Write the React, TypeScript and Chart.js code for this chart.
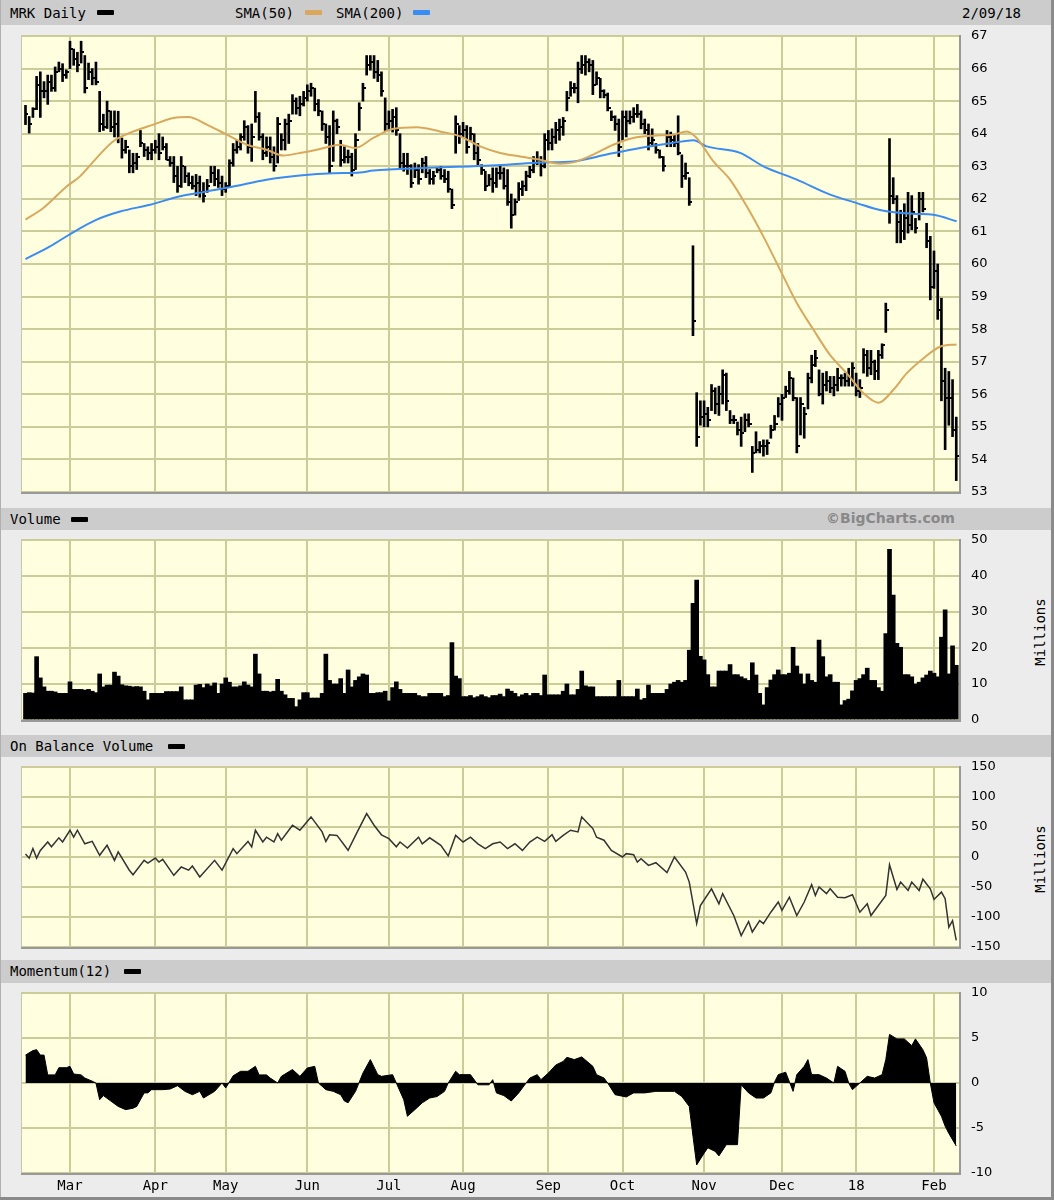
import React, { useEffect, useRef } from 'react';
import { Chart, registerables } from 'chart.js';

Chart.register(...registerables);

// ---------- DATA (daily bars, index 0 = mid Feb 2017, index 251 = 2/09/18) ----------
const monthIdx = [12, 35, 54, 76, 98, 118, 141, 161, 183, 204, 224, 245];
const monthLabels = ['Mar', 'Apr', 'May', 'Jun', 'Jul', 'Aug', 'Sep', 'Oct', 'Nov', 'Dec', '18', 'Feb'];

const highs = [
  64.87, 64.53, 64.8, 65.76, 65.9, 65.6, 65.8, 65.8, 66.05, 66.2, 66.15, 65.96, 66.84, 66.6, 66.5, 66.84, 66.4, 66.17, 66.0, 66.2, 65.3, 64.6, 65.0, 64.7, 64.7,
  64.69, 63.87, 63.8, 63.5, 63.4, 63.4, 64.1, 63.7, 63.6, 63.7, 63.8, 64.0, 63.9, 63.7, 63.3, 63.3, 63.0, 63.3, 63.0, 62.8, 62.7, 62.75, 62.7, 62.5, 62.6, 63.0, 63.0, 62.9, 62.7, 62.5, 63.2, 63.7, 63.8, 64.0, 64.4, 64.25, 64.3, 65.3, 64.65,
  64.0, 63.9, 63.9, 63.6, 64.5, 64.0, 64.45, 64.6, 65.2, 65.1, 65.15, 65.3, 65.5, 65.55, 65.4, 65.05, 64.7, 64.3, 64.25, 64.7, 64.45, 63.8, 63.6, 63.5, 63.4, 64.0, 64.95, 65.55, 66.4, 66.4, 66.4, 66.25, 65.9, 65.1, 64.7, 64.75, 64.8, 64.0, 63.4, 63.4, 63.05, 63.1, 63.05, 63.25, 63.3, 62.9, 62.85, 62.95, 63.0, 62.9, 62.85, 62.3, 64.55, 64.25, 64.35, 64.25, 64.2, 64.0, 63.7, 63.05, 62.85, 62.75,
  62.95, 62.95, 63.0, 62.95, 62.9, 62.15, 62.0, 62.5, 62.55, 62.85, 63.0, 63.3, 63.45, 63.3, 64.0,
  64.1, 64.15, 64.35, 64.45, 64.5, 65.3, 65.6, 65.55, 66.2, 66.4, 66.4, 66.3, 66.25, 65.9, 65.7, 65.35, 65.25, 64.7, 64.55, 64.45, 64.7,
  64.7, 64.7, 64.8, 64.9, 64.7, 64.45, 64.3, 64.15, 63.7, 63.5, 63.3, 64.1, 64.05, 63.95, 64.55, 63.35, 63.1, 62.65,
  60.56, 56.05, 55.8, 55.8, 55.6, 56.3, 56.2, 56.25, 56.75, 56.65, 55.5, 55.35, 55.15, 55.3, 55.4, 55.4, 54.4, 54.85, 54.55, 54.6, 54.6, 55.05, 55.35, 55.9,
  56.0, 56.25, 56.7, 56.5, 55.9, 55.9, 55.6, 56.65, 57.2, 57.35, 56.75, 56.65, 56.7, 56.55, 56.55, 56.8, 56.6, 56.65, 56.8, 56.97,
  56.65, 56.45, 57.4, 57.35, 57.35, 57.05, 57.35, 57.55, 58.8, 63.85, 62.65, 62.1, 61.65, 61.85, 62.2, 62.1, 61.4, 62.2, 62.2, 61.25, 60.85, 60.4, 60.0, 58.95, 56.8, 56.7, 56.45, 55.3,
];

const lows = [
  64.28, 64.02, 64.5, 64.74, 64.5, 65.1, 64.9, 65.3, 65.3, 65.9, 65.6, 65.7, 66.0, 66.1, 65.9, 66.17, 65.25, 65.66, 65.5, 65.5, 64.06, 64.1, 64.16, 64.06, 63.9,
  63.72, 63.25, 63.4, 62.8, 62.8, 62.9, 63.6, 63.3, 63.2, 63.2, 63.4, 63.2, 63.5, 63.2, 63.0, 62.5, 62.2, 62.35, 62.5, 62.4, 62.3, 62.1, 62.05, 61.9, 62.2, 62.5, 62.4, 62.35, 62.1, 62.2, 62.35, 63.0, 63.4, 63.5, 63.8, 63.4, 63.15, 64.35, 63.8,
  63.2, 63.3, 63.1, 62.85, 63.1, 63.5, 63.5, 63.7, 64.6, 64.6, 64.55, 64.85, 65.0, 65.15, 64.7, 64.55, 64.1, 63.7, 62.8, 63.15, 64.0, 63.0, 63.1, 63.1, 62.7, 62.9, 64.1, 65.0, 65.8, 65.95, 65.7, 65.6, 65.15, 64.1, 64.1, 64.05, 63.95, 62.96, 62.85, 62.75, 62.35, 62.65, 62.45, 62.8, 62.65, 62.45, 62.45, 62.8, 62.6, 62.5, 62.2, 61.7, 63.4, 63.7, 63.9, 63.4, 63.8, 63.2, 63.05, 62.75, 62.25, 62.4,
  62.2, 62.35, 62.6, 62.3, 61.8, 61.1, 61.5, 61.95, 62.1, 62.25, 62.65, 62.8, 63.05, 62.7, 62.95,
  63.5, 63.5, 63.7, 63.8, 63.95, 64.7, 65.15, 65.25, 64.95, 65.85, 65.8, 65.9, 65.2, 65.5, 65.1, 65.1, 64.7, 64.4, 64.1, 63.3, 63.8,
  63.9, 64.3, 64.35, 64.5, 64.15, 64.0, 63.5, 63.6, 63.4, 63.25, 62.85, 63.6, 63.6, 63.6, 63.35, 62.35, 62.6, 61.8,
  57.8, 54.4, 55.05, 55.0, 55.0, 55.5, 55.4, 55.35, 55.7, 55.5, 55.1, 55.1, 54.75, 54.4, 54.85, 55.0, 53.6, 54.2, 54.2, 54.1, 54.15, 54.65, 54.9, 55.3,
  55.2, 55.9, 56.0, 55.8, 54.2, 54.75, 54.65, 55.55, 56.35, 56.85, 55.95, 55.7, 56.1, 56.05, 55.95, 56.1, 56.25, 56.25, 56.25, 56.25,
  55.95, 55.9, 56.65, 56.55, 56.6, 56.45, 56.45, 57.1, 57.9, 61.25, 61.85, 60.65, 60.65, 60.75, 60.95, 61.05, 60.95, 61.35, 61.6, 60.5, 58.9, 59.25, 58.3, 55.8, 54.3, 55.05, 54.7, 53.35,
];

const closes = [
  64.6, 64.3, 64.75, 65.5, 65.3, 65.3, 65.6, 65.4, 65.9, 66.0, 65.8, 65.9, 66.6, 66.3, 66.1, 66.5, 65.4, 65.9, 65.7, 65.6, 64.3, 64.2, 64.7, 64.2, 64.3,
  63.9, 63.5, 63.6, 63.0, 63.1, 63.3, 63.7, 63.5, 63.4, 63.5, 63.6, 63.4, 63.6, 63.2, 63.1, 62.7, 62.4, 63.0, 62.7, 62.5, 62.4, 62.5, 62.2, 62.1, 62.4, 62.8, 62.6, 62.5, 62.3, 62.4, 63.1, 63.5, 63.6, 63.9, 64.2, 63.6, 63.9, 64.5, 63.9,
  63.4, 63.6, 63.3, 63.0, 64.3, 63.8, 64.3, 64.4, 65.0, 64.8, 64.9, 65.1, 65.3, 65.4, 64.9, 64.7, 64.3, 63.9, 63.0, 64.4, 64.2, 63.2, 63.3, 63.3, 62.9, 63.8, 64.8, 65.4, 66.1, 66.2, 65.9, 65.8, 65.3, 64.3, 64.4, 64.5, 64.1, 63.1, 63.0, 63.0, 62.5, 62.9, 62.6, 63.1, 62.8, 62.6, 62.7, 62.9, 62.7, 62.6, 62.3, 61.8, 64.3, 64.0, 64.1, 63.6, 64.0, 63.4, 63.2, 62.9, 62.4, 62.6,
  62.5, 62.8, 62.8, 62.4, 61.9, 61.5, 61.9, 62.3, 62.4, 62.7, 62.9, 63.1, 63.2, 63.0, 63.8,
  63.7, 63.9, 64.1, 64.2, 64.4, 65.1, 65.4, 65.4, 66.0, 66.1, 66.2, 66.1, 65.5, 65.7, 65.3, 65.2, 64.8, 64.5, 64.3, 63.6, 64.5,
  64.4, 64.5, 64.6, 64.6, 64.3, 64.1, 63.7, 63.8, 63.5, 63.3, 63.0, 63.9, 63.8, 63.7, 63.4, 62.7, 62.8, 61.9,
  58.25, 54.7, 55.3, 55.4, 55.2, 56.1, 55.7, 56.0, 56.6, 55.8, 55.2, 55.2, 54.9, 54.8, 55.2, 55.1, 54.2, 54.3, 54.4, 54.4, 54.5, 54.9, 55.1, 55.7,
  55.9, 56.1, 56.5, 55.9, 54.4, 55.7, 55.4, 56.5, 56.9, 57.1, 56.0, 56.3, 56.4, 56.2, 56.3, 56.5, 56.5, 56.4, 56.5, 56.8,
  56.1, 56.2, 57.2, 56.8, 57.0, 56.7, 57.2, 57.5, 58.6, 62.1, 62.0, 61.3, 61.0, 61.4, 61.2, 61.6, 61.1, 62.0, 61.7, 60.7, 59.3, 59.8, 58.6, 56.4, 55.9, 55.9, 54.9, 54.1,
];

const volumes = [
  7.4, 7.6, 7.5, 17.6, 11.7, 9.2, 8.0, 8.0, 7.8, 7.4, 7.4, 7.4, 10.6, 8.5, 8.5, 8.5, 8.3, 8.5, 8.0, 7.6, 12.8, 9.2, 9.7, 9.7, 13.3,
  12.2, 9.8, 9.5, 9.4, 9.2, 9.3, 9.2, 8.0, 5.6, 7.4, 7.4, 7.4, 7.4, 7.9, 7.9, 7.9, 7.9, 9.2, 5.6, 5.6, 5.6, 9.7, 9.9, 9.0, 10.0,
  9.5, 10.3, 7.4, 10.0, 11.7, 10.5, 9.2, 9.2, 9.5, 10.6, 9.7, 9.2, 18.3, 12.8, 8.0, 8.0, 7.8, 8.0, 11.3, 8.0, 7.0, 6.0, 6.0, 3.7, 5.6,
  7.6, 7.6, 6.1, 6.1, 6.1, 7.4, 18.3, 11.0, 10.0, 10.0, 11.5, 7.4, 13.9, 9.2, 11.0, 12.0, 12.8, 12.5, 7.4, 7.4, 7.6, 7.6, 8.0, 5.3, 9.0,
  10.6, 8.5, 7.4, 7.4, 7.4, 7.4, 6.8, 6.5, 6.5, 7.4, 7.4, 7.4, 7.4, 6.5, 6.8, 21.5, 12.2, 11.5, 6.5, 6.5, 6.8, 6.2, 6.5, 7.0, 6.5,
  6.2, 6.8, 6.8, 7.2, 6.5, 8.6, 8.0, 7.4, 6.5, 7.0, 7.4, 6.8, 7.4, 7.4, 6.8, 12.5, 7.0, 7.0, 7.0, 7.0, 8.0, 10.0, 7.0, 7.0, 8.5,
  13.6, 9.5, 9.2, 9.2, 6.5, 6.5, 6.5, 6.5, 6.5, 6.5, 11.0, 6.5, 6.5, 6.5, 6.5, 8.6, 5.6, 6.0, 9.7, 7.4, 7.4, 7.4, 7.4, 8.5, 10.0,
  10.5, 11.0, 10.5, 11.0, 19.4, 32.4, 38.9, 17.7, 16.7, 12.6, 9.2, 9.2, 13.6, 13.6, 13.6, 15.4, 12.6, 12.6, 12.0, 11.5, 11.0, 15.9, 12.5, 7.4, 4.2,
  9.0, 11.1, 12.6, 13.9, 12.6, 12.6, 13.0, 20.2, 15.0, 12.8, 10.0, 12.8, 11.0, 10.5, 22.2, 17.6, 12.0, 12.6, 10.5, 10.5, 4.2, 5.4, 5.8, 8.1, 11.0,
  11.5, 12.6, 14.4, 11.0, 11.0, 9.0, 8.0, 24.0, 47.4, 34.7, 21.3, 20.2, 12.6, 12.6, 12.0, 10.0, 10.5, 11.7, 12.5, 13.6, 13.0, 12.0, 23.0, 30.6, 12.8,
  20.6, 15.2,
];

const sma50Idx = [0, 4.8, 11.1, 14.7, 19.2, 23.7, 29.1, 34.5, 39.9, 43.9, 48.9, 54.3, 59.7, 65.0, 69.5, 74.0, 78.5, 82.1, 84.8, 88.9, 93.8, 99.2, 105.5, 111.8, 117.2, 122.6, 128.0, 133.4, 138.8, 144.1, 147.7, 153.1, 158.5, 163.9, 169.3, 174.7, 178.3, 181.0, 185.5, 190.0, 194.5, 199.0, 203.5, 208.0, 212.5, 217.0, 221.5, 226.0, 230.0, 234.0, 237.6, 242.1, 246.6, 251.1];
const sma50Vals = [61.36, 61.72, 62.38, 62.69, 63.26, 63.77, 64.07, 64.28, 64.48, 64.51, 64.28, 63.97, 63.66, 63.51, 63.33, 63.41, 63.51, 63.61, 63.66, 63.56, 63.87, 64.15, 64.2, 64.07, 63.92, 63.61, 63.41, 63.3, 63.2, 63.08, 63.12, 63.36, 63.66, 63.87, 63.94, 63.97, 64.07, 63.87, 63.15, 62.59, 61.77, 60.84, 59.82, 58.8, 57.98, 57.2, 56.64, 56.03, 55.74, 56.13, 56.64, 57.1, 57.46, 57.53];

const sma200Idx = [0, 6.6, 12.5, 19.2, 25.5, 33.6, 41.7, 48.9, 56.0, 65.0, 74.0, 83.0, 90.2, 93.8, 107.3, 120.8, 129.8, 138.8, 147.7, 156.7, 165.7, 174.7, 180.1, 183.7, 192.7, 199.0, 208.0, 217.0, 224.2, 230.4, 239.4, 244.8, 251.1];
const sma200Vals = [60.15, 60.54, 60.95, 61.36, 61.61, 61.82, 62.08, 62.23, 62.38, 62.59, 62.72, 62.79, 62.81, 62.87, 62.95, 63.0, 63.05, 63.12, 63.15, 63.36, 63.56, 63.72, 63.8, 63.61, 63.41, 63.0, 62.59, 62.13, 61.87, 61.66, 61.54, 61.51, 61.31];

const obvIdx = [0, 1, 2, 3, 4, 6, 7, 9, 10, 12, 13, 14, 16, 18, 20, 22, 24, 25, 28, 29, 32, 33, 35, 36, 37, 40, 42, 44, 45, 47, 51, 53, 56, 57, 60, 61, 62, 64, 65, 67, 68, 69, 71, 72, 74, 77, 78, 80, 81, 82, 84, 86, 87, 89, 92, 94, 96, 98, 100, 101, 103, 106, 107, 109, 112, 114, 116, 118, 120, 122, 124, 126, 128, 130, 132, 134, 136, 138, 140, 142, 143, 145, 147, 149, 150, 153, 154, 156, 158, 161, 162, 164, 165, 166, 168, 170, 173, 175, 178, 179, 181, 182, 185, 187, 188, 191, 193, 195, 196, 198, 199, 201, 203, 204, 206, 208, 210, 212, 213, 214, 216, 217, 219, 221, 223, 225, 227, 228, 230, 232, 233, 235, 236, 238, 239, 241, 242, 244, 245, 247, 248, 249, 250, 251];
const obvVals = [5, -2, 14, -1.7, 11, 25, 17, 32, 25, 44.6, 33, 44.6, 22, 26, 2.8, 19.5, -5.6, 8.4, -22, -29.5, -5.6, -10, -1.7, -8.4, -3.9, -30.6, -16.7, -22, -15, -33.4, -5.6, -22, 14, 5.6, 26, 17, 44.6, 25, 33, 25, 39, 28, 44.6, 53, 44.6, 66.8, 58.5, 41.8, 26, 37, 36, 19.5, 11, 36, 72.4, 53, 37, 30.6, 17, 25, 15, 33, 22, 32, 19.5, 1.7, 36, 25, 33, 22, 14, 22, 25, 14, 22, 11, 25, 33, 26, 37, 26, 36, 44.6, 41.8, 66.8, 47.4, 33, 28, 11, 0, 5.6, 3.9, -8.4, -2.8, -14, -9.5, -26, 0, -25, -41.8, -111, -80.8, -53, -78, -61, -97.5, -131, -107.5, -125, -106, -111, -92, -75, -89, -67, -97.5, -75, -46, -64, -50, -61, -53, -67, -68, -63, -92, -78, -97.5, -80.8, -64, -12.8, -54, -41.8, -55.7, -41.8, -55.7, -37, -53, -70.7, -58.5, -69.6, -117, -106, -139];

const momIdx = [0, 2, 3, 4, 5, 6, 8, 9, 11, 12, 13, 15, 16, 18, 19, 20, 21, 23, 25, 27, 29, 30, 32, 33, 34, 37, 39, 41, 43, 45, 47, 48, 51, 53, 54, 56, 58, 60, 62, 63, 65, 66, 68, 69, 72, 74, 76, 78, 79, 81, 83, 85, 86, 87, 89, 91, 93, 95, 96, 99, 100, 102, 103, 105, 107, 109, 111, 113, 114, 116, 117, 120, 122, 125, 126, 127, 129, 131, 133, 135, 136, 138, 139, 141, 143, 145, 146, 148, 150, 153, 154, 156, 157, 159, 162, 164, 167, 170, 173, 175, 177, 179, 180, 181, 183, 184, 186, 187, 189, 191, 192, 193, 195, 197, 199, 201, 202, 203, 205, 207, 208, 210, 211, 212, 214, 216, 218, 219, 221, 222, 223, 225, 227, 229, 231, 232, 233, 235, 237, 239, 240, 242, 243, 244, 245, 247, 248, 249, 251];
const momVals = [3.1, 3.6, 3.7, 3.1, 3.1, 0.9, 0.9, 1.7, 1.7, 1.85, 1.0, 0.9, 0.55, 0.2, 0, -1.85, -1.4, -2.0, -2.6, -2.96, -2.8, -2.6, -1.1, -1.1, -0.74, -0.74, -0.67, -0.3, -0.93, -1.3, -0.93, -1.67, -0.93, 0, -0.55, 0.8, 1.3, 1.3, 1.85, 0.9, 0.9, 0.55, 0, 0.74, 1.5, 0.74, 1.67, 1.85, 0, -0.74, -0.93, -1.3, -2.0, -2.2, -0.93, 1.1, 2.6, 0.93, 0.74, 0.93, 0, -1.85, -3.7, -2.96, -2.2, -1.67, -1.5, -0.93, 0, 1.3, 0.93, 0.93, -0.2, -0.2, 0.37, -1.1, -1.4, -2.0, -1.1, 0, 0.55, 0.93, 0.37, 1.1, 2.0, 2.4, 2.85, 2.6, 2.9, 1.85, 0.93, 0.55, 0, -1.3, -1.55, -1.1, -1.1, -0.93, -0.93, -0.93, -1.5, -2.6, -5.9, -9.1, -7.8, -7.2, -7.6, -8.1, -6.85, -6.85, -6.85, -0.2, -1.1, -1.67, -1.67, -1.1, 0.1, 0.93, 1.2, -0.93, 0.93, 1.85, 2.6, 0.93, 0.93, 0.55, 0, 1.85, 1.3, 0, -0.74, 0, 0.74, 0.55, 0.93, 2.6, 5.4, 4.9, 4.9, 4.15, 4.9, 3.7, 2.8, 0, -2.2, -3.7, -4.8, -5.6, -7.0];

// ---------- STYLE ----------
const X_MIN = -1.21;
const X_MAX = 251.74;
const GRID = '#cccc99';
const PLOT_BG = '#ffffe0';
const MONO = '"DejaVu Sans Mono", monospace';
const SANS = '"DejaVu Sans", sans-serif';

const framePlugin = {
  id: 'frame',
  beforeDraw(chart: any) {
    const { ctx, chartArea: a } = chart;
    ctx.save();
    ctx.fillStyle = PLOT_BG;
    ctx.fillRect(a.left, a.top, a.right - a.left, a.bottom - a.top);
    ctx.restore();
  },
  afterDraw(chart: any) {
    const { ctx, chartArea: a } = chart;
    ctx.save();
    ctx.strokeStyle = '#c8c8b0';
    ctx.lineWidth = 1;
    ctx.beginPath();
    ctx.moveTo(a.left + 0.5, a.top);
    ctx.lineTo(a.left + 0.5, a.bottom);
    ctx.stroke();
    ctx.strokeStyle = '#999999';
    ctx.lineWidth = 2;
    ctx.beginPath();
    ctx.moveTo(a.left, a.bottom + 1);
    ctx.lineTo(a.right + 1, a.bottom + 1);
    ctx.lineTo(a.right + 1, a.top - 1);
    ctx.stroke();
    ctx.restore();
  },
};

function makeOptions(yMin: number, yMax: number, step: number, pad: any, showMonths: boolean) {
  return {
    animation: false,
    responsive: false,
    maintainAspectRatio: false,
    events: [],
    layout: { padding: pad },
    plugins: { legend: { display: false }, tooltip: { enabled: false }, title: { display: false } },
    scales: {
      x: {
        type: 'linear',
        min: X_MIN,
        max: X_MAX,
        offset: false,
        afterBuildTicks: (s: any) => {
          s.ticks = monthIdx.map((v) => ({ value: v }));
        },
        afterFit: (s: any) => {
          s.height = showMonths ? 20 : 0;
        },
        grid: { color: GRID, lineWidth: 2, drawTicks: false, offset: false },
        border: { display: false },
        ticks: {
          display: showMonths,
          autoSkip: false,
          maxRotation: 0,
          padding: 5,
          color: '#000',
          font: { family: MONO, size: 14 },
          callback: (v: number) => {
            const k = monthIdx.indexOf(v);
            return k >= 0 ? monthLabels[k] : '';
          },
        },
      },
      y: {
        type: 'linear',
        position: 'right',
        min: yMin,
        max: yMax,
        afterFit: (s: any) => {
          s.width = 95;
        },
        grid: { color: GRID, lineWidth: 2, drawTicks: true, tickLength: 12, tickColor: 'rgba(0,0,0,0)' },
        border: { display: false },
        ticks: { stepSize: step, padding: 0, color: '#000', font: { family: SANS, size: 13 } },
      },
    },
  };
}

export default function App() {
  const priceRef = useRef<HTMLCanvasElement>(null);
  const volRef = useRef<HTMLCanvasElement>(null);
  const obvRef = useRef<HTMLCanvasElement>(null);
  const momRef = useRef<HTMLCanvasElement>(null);

  useEffect(() => {
    const charts: Chart[] = [];

    const tick = document.createElement('canvas');
    tick.width = 6;
    tick.height = 2;
    const tctx = tick.getContext('2d');
    if (tctx) {
      tctx.fillStyle = '#000';
      tctx.fillRect(3, 0, 3, 2);
    }

    const pts = (xs: number[], ys: number[]) => xs.map((x, i) => ({ x, y: ys[i] }));

    charts.push(
      new Chart(priceRef.current as HTMLCanvasElement, {
        type: 'line',
        data: {
          datasets: [
            {
              label: 'SMA(50)',
              data: pts(sma50Idx, sma50Vals),
              borderColor: '#d9a85c',
              borderWidth: 2,
              pointRadius: 0,
              cubicInterpolationMode: 'monotone',
              order: 0,
            } as any,
            {
              label: 'SMA(200)',
              data: pts(sma200Idx, sma200Vals),
              borderColor: '#3a8cf2',
              borderWidth: 2,
              pointRadius: 0,
              cubicInterpolationMode: 'monotone',
              order: 0,
            },
            {
              type: 'bar',
              label: 'MRK',
              data: highs.map((h, i) => ({ x: i, y: [lows[i], h] })),
              backgroundColor: '#000',
              barThickness: 2,
              order: 2,
            } as any,
            {
              label: 'close',
              data: closes.map((c, i) => ({ x: i, y: c })),
              showLine: false,
              pointStyle: tick,
              pointRadius: 1,
              order: 1,
            } as any,
          ],
        },
        options: makeOptions(53, 67, 1, { left: 21, right: 0, top: 11, bottom: 13 }, false) as any,
        plugins: [framePlugin],
      })
    );

    charts.push(
      new Chart(volRef.current as HTMLCanvasElement, {
        type: 'line',
        data: {
          datasets: [
            {
              type: 'bar',
              label: 'Volume',
              data: volumes.map((v, i) => ({ x: i, y: v })),
              backgroundColor: '#000',
              barThickness: 4,
            } as any,
          ],
        },
        options: makeOptions(0, 50, 10, { left: 21, right: 0, top: 10, bottom: 10 }, false) as any,
        plugins: [framePlugin],
      })
    );

    charts.push(
      new Chart(obvRef.current as HTMLCanvasElement, {
        type: 'line',
        data: {
          datasets: [
            {
              label: 'On Balance Volume',
              data: pts(obvIdx, obvVals),
              borderColor: '#333',
              borderWidth: 1.5,
              pointRadius: 0,
              tension: 0,
            },
          ],
        },
        options: makeOptions(-150, 150, 50, { left: 21, right: 0, top: 10, bottom: 10 }, false) as any,
        plugins: [framePlugin],
      })
    );

    charts.push(
      new Chart(momRef.current as HTMLCanvasElement, {
        type: 'line',
        data: {
          datasets: [
            {
              label: 'Momentum(12)',
              data: pts(momIdx, momVals),
              borderColor: '#000',
              borderWidth: 1,
              backgroundColor: '#000',
              fill: 'origin',
              pointRadius: 0,
              tension: 0,
            },
          ],
        },
        options: makeOptions(-10, 10, 5, { left: 21, right: 0, top: 10, bottom: 3 }, true) as any,
        plugins: [framePlugin],
      })
    );

    return () => charts.forEach((c) => c.destroy());
  }, []);

  const band = (top: number, h: number) => ({
    position: 'absolute' as const,
    left: 1,
    top,
    width: 1050,
    height: h,
    background: '#cccccc',
  });
  const txt = (left: number, top: number, extra: any = {}) => ({
    position: 'absolute' as const,
    left,
    top,
    fontFamily: MONO,
    fontSize: 14,
    color: '#000',
    lineHeight: '16px',
    whiteSpace: 'nowrap' as const,
    ...extra,
  });
  const sw = (left: number, top: number, color: string) => ({
    position: 'absolute' as const,
    left,
    top,
    width: 17,
    height: 5,
    borderRadius: 1,
    background: color,
  });
  const canvasStyle = (top: number, h: number) => ({
    position: 'absolute' as const,
    left: 0,
    top,
    width: 1054,
    height: h,
    display: 'block',
  });

  return (
    <div
      style={{
        position: 'absolute',
        left: 0,
        top: 0,
        width: 1054,
        height: 1200,
        background: '#ececec',
        overflow: 'hidden',
        boxSizing: 'border-box',
      }}
    >
      <div style={band(0, 25)} />
      <div style={band(508, 22)} />
      <div style={band(735, 22)} />
      <div style={band(960, 23)} />

      <div style={txt(10, 5)}>MRK Daily</div>
      <div style={sw(97, 10, '#000')} />
      <div style={txt(235, 5)}>SMA(50)</div>
      <div style={sw(305, 10, '#d9a85c')} />
      <div style={txt(336, 5)}>SMA(200)</div>
      <div style={sw(413, 10, '#3a8cf2')} />
      <div style={txt(962, 5)}>2/09/18</div>

      <div style={txt(10, 511)}>Volume</div>
      <div style={sw(71, 517, '#000')} />
      <div style={txt(826, 510, { fontFamily: SANS, fontWeight: 'bold', color: '#888', fontSize: 14 })}>©BigCharts.com</div>

      <div style={txt(10, 738)}>On Balance Volume</div>
      <div style={sw(168, 744, '#000')} />

      <div style={txt(10, 963)}>Momentum(12)</div>
      <div style={sw(124, 969, '#000')} />

      <div style={txt(1006, 624, { transform: 'rotate(-90deg)', transformOrigin: 'center' })}>Millions</div>
      <div style={txt(1006, 851, { transform: 'rotate(-90deg)', transformOrigin: 'center' })}>Millions</div>

      <canvas ref={priceRef} width={1054} height={480} style={canvasStyle(25, 480)} />
      <canvas ref={volRef} width={1054} height={200} style={canvasStyle(530, 200)} />
      <canvas ref={obvRef} width={1054} height={200} style={canvasStyle(757, 200)} />
      <canvas ref={momRef} width={1054} height={213} style={canvasStyle(983, 213)} />

      <div style={{ position: 'absolute', left: 0, top: 0, width: 1, height: 1200, background: '#b0b0b0' }} />
      <div style={{ position: 'absolute', right: 0, top: 0, width: 3, height: 1200, background: '#8a8a8a' }} />
      <div style={{ position: 'absolute', left: 0, bottom: 0, width: 1054, height: 3, background: '#8a8a8a' }} />
    </div>
  );
}
